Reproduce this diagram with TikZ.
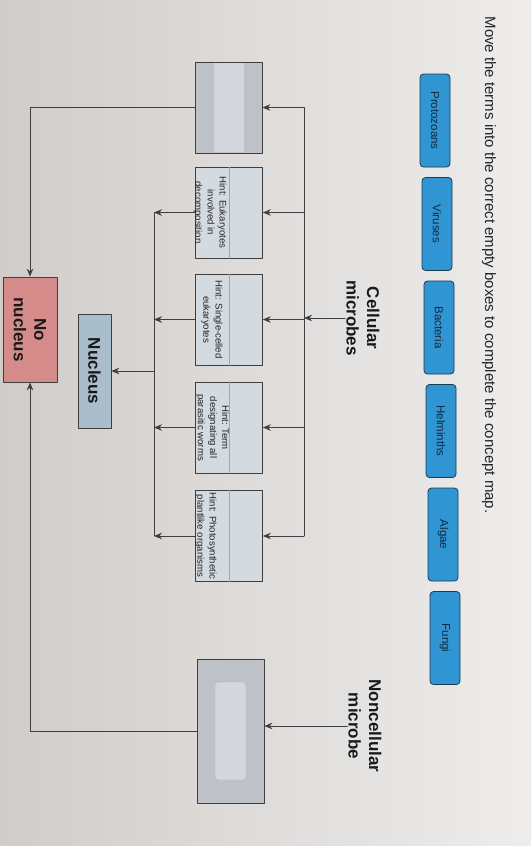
\documentclass[tikz,border=0pt]{standalone}
\usepackage{fontspec}
\setmainfont{Liberation Sans}
\usetikzlibrary{arrows.meta,positioning,calc}
\definecolor{termblue}{HTML}{2F95D3}
\definecolor{termedge}{HTML}{1E3A52}
\definecolor{termtext}{HTML}{16283C}
\definecolor{emptygray}{HTML}{BEC2C8}
\definecolor{emptylight}{HTML}{D3D6DA}
\definecolor{hintfill}{HTML}{D3DAE0}
\definecolor{nonucfill}{HTML}{D58B89}
\definecolor{nucfill}{HTML}{A9BDCB}
\definecolor{linegray}{HTML}{3F3F3F}
\definecolor{bgleft}{HTML}{D0CCC9}
\definecolor{bgright}{HTML}{EEEDEC}

\begin{document}
\begin{tikzpicture}[x=1pt, y=-1pt, line cap=round, line join=round,
  term/.style={draw=termedge, line width=0.8pt, fill=termblue, rounded corners=3.5pt, rotate=-90,
    minimum width=93pt, minimum height=30pt, inner sep=0pt, text=termtext, font=\fontsize{11.5}{13}\selectfont},
  dropbox/.style={draw=linegray, line width=0.7pt, rotate=-90, minimum width=91pt, minimum height=67pt, inner sep=0pt},
  hint/.style={rotate=-90, align=center, inner sep=0pt, text=black!85, font=\fontsize{9.6}{12.2}\selectfont},
  heading/.style={rotate=-90, align=center, inner sep=1pt, text=black!90, font=\bfseries\fontsize{17}{20.5}\selectfont}]

    \useasboundingbox (0,0) rectangle (531,846);
    \fill[left color=bgleft, right color=bgright] (0,0) rectangle (531,846);

    \tikzset{arr/.style={-{Stealth[length=8pt, width=6.5pt]}, line width=0.8pt, draw=linegray},
             link/.style={line width=0.8pt, draw=linegray}}

    \node[rotate=-90, font=\fontsize{15}{17}\selectfont, text=black!85] (title) at (489,265)
      {Move the terms into the correct empty boxes to complete the concept map.};

    % terms to drag
    \foreach \nm/\txt [count=\i] in {protozoans/Protozoans, viruses/Viruses, bacteria/Bacteria,
        helminths/Helminths, algae/Algae, fungi/Fungi}
      \node[term] (\nm) at ({433+2*\i}, {17+103.5*\i}) {\txt};

    % empty boxes
    \node[dropbox, fill=emptygray] (boxA) at (228.5,107.5) {};
    \node[rotate=-90, fill=emptylight, minimum width=89pt, minimum height=30pt, inner sep=0pt] (boxAin) at (boxA) {};

    \foreach \nm/\yy/\hx/\txt in {boxB/212.5/210/{Hint: Eukaryotes\\involved in\\decomposition},
        boxC/319.5/212/{Hint: Single-celled\\eukaryotes},
        boxD/427.5/212.5/{Hint: Term\\designating all\\parasitic worms},
        boxE/536/206/{Hint: Photosynthetic\\plantlike organisms}} {
      \node[dropbox, fill=hintfill] (\nm) at (229,\yy) {};
      \draw[gray!70, line width=0.5pt] (\nm.west) -- (\nm.east);
      \node[hint] (\nm-hint) at (\hx,\yy) {\txt};
    }

    \node[dropbox, fill=emptygray, minimum width=144pt] (nobox) at (230.5,731) {};
    \node[rotate=-90, draw=gray!60, fill=emptylight, rounded corners=3pt, minimum width=98pt,
      minimum height=31pt, inner sep=0pt] (noboxin) at (nobox) {};

    % labels
    \node[heading] (cell) at (363,318) {Cellular\\microbes};
    \node[heading] (noncell) at (365,726) {Noncellular\\microbe};
    \node[heading, draw=linegray, line width=0.7pt, fill=nucfill, minimum width=114pt,
      minimum height=33pt, inner sep=0pt] (nucleus) at (94.5,371) {Nucleus};
    \node[heading, draw=linegray, line width=0.7pt, fill=nonucfill, minimum width=105pt,
      minimum height=54pt, inner sep=0pt] (nonuc) at (30,329.5) {No\\nucleus};

    % right bus
    \coordinate (rtop) at (304,107.5);
    \coordinate (rbot) at (304,536);
    \draw[link] (rtop) -- (rbot);
    \draw[arr] (cell.south) -- (cell.south -| rtop);
    \foreach \nm in {boxA,boxB,boxC,boxD,boxE}
      \draw[arr] (\nm.north -| rtop) -- (\nm.north);

    % left bus
    \coordinate (ltop) at (154,212.5);
    \coordinate (lbot) at (154,536);
    \draw[link] (ltop) -- (lbot);
    \foreach \nm in {boxB,boxC,boxD,boxE}
      \draw[arr] (\nm.south) -- (\nm.south -| ltop);
    \draw[arr] (nucleus.north -| ltop) -- (nucleus.north);

    \draw[arr] (noncell.south) -- (noncell.south -| nobox.north);
    \draw[arr] (boxA.south) -| (nonuc.west);
    \draw[arr] (nobox.south) -| (nonuc.east);
  \end{tikzpicture}
\end{document}
